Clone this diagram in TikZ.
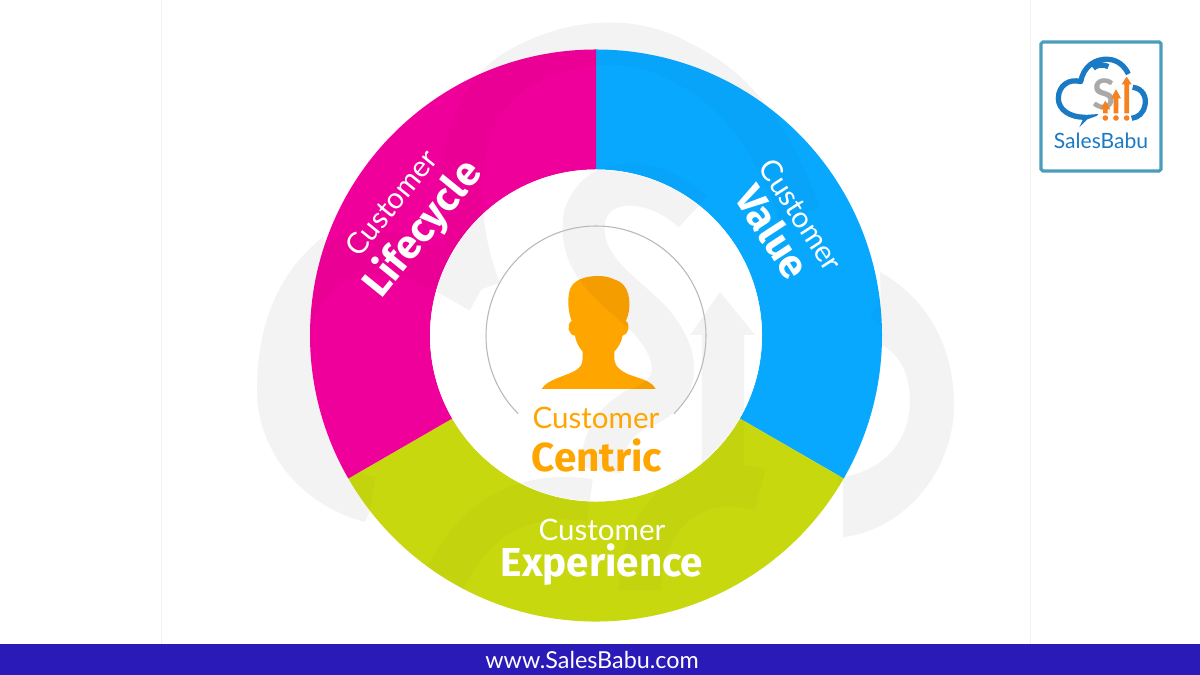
\documentclass[tikz,border=0pt]{standalone}
\usepackage{fontspec}
\setmainfont{Lato}
\newfontfamily\boldfam{Fira Sans}
\newfontfamily\thinfam{Lato}
\definecolor{ringpink}{HTML}{F0009A}
\definecolor{ringblue}{HTML}{08A8FF}
\definecolor{ringlime}{HTML}{C7D80F}
\definecolor{accent}{HTML}{FFA500}
\definecolor{footerblue}{HTML}{2A1AB8}
\definecolor{logoblue}{HTML}{1B7AC4}
\definecolor{logoframe}{HTML}{4A9DBB}
\definecolor{logoorange}{HTML}{F58220}
\definecolor{logogray}{HTML}{A9A9A9}
\definecolor{markgray}{HTML}{F3F3F3}
\tikzset{
  thin text/.style={inner sep=0pt,font=\thinfam\fontsize{16.8pt}{18pt}\selectfont},
  bold text/.style={inner sep=0pt,font=\boldfam\bfseries\fontsize{23pt}{26pt}\selectfont},
  mark band/.style={line width=24pt,line cap=butt,fill=none},
  image space/.style={cm={1,0,0,-1,(0,675)}},
  logo line/.style={draw=logoblue,line width=3pt,line cap=butt,fill=none},
}
\newcommand{\markbands}{
 (480,292) .. controls (440,270) and (400,240) .. (345,258)
 .. controls (300,280) and (278,330) .. (280,390)
 .. controls (282,440) and (320,490) .. (372,498)
 (480,290) .. controls (445,200) and (460,100) .. (520,68)
 .. controls (580,35) and (640,38) .. (680,62) .. controls (730,85) and (770,130) .. (800,215)
 (693,212) .. controls (660,180) and (600,170) .. (585,215)
 .. controls (575,265) and (620,290) .. (650,320)
 .. controls (685,360) and (680,395) .. (635,410)
 .. controls (610,425) and (605,440) .. (600,470)
 (723,335) -- (723,480)
 (880,300) .. controls (920,320) and (932,360) .. (932,405)
 .. controls (932,460) and (890,495) .. (840,497)
 (440,590) .. controls (470,520) and (520,490) .. (590,500)
 (640,590) .. controls (640,520) and (690,470) .. (760,490)
}
\begin{document}
\begin{tikzpicture}[x=.02cm,y=.02cm]
\useasboundingbox (0,0) rectangle (1200,675);
\fill[white] (0,0) rectangle (1200,675);
% page edge lines
\draw[draw=black!5,line width=.4pt] (161,31) -- (161,675);
\draw[draw=black!5,line width=.4pt] (1030,31) -- (1030,675);
% watermark outside the ring
\begin{scope}[image space]
\draw[mark band,draw=markgray]
 (480,290) .. controls (445,200) and (460,100) .. (520,68)
 .. controls (580,35) and (640,38) .. (680,62) .. controls (730,85) and (770,130) .. (800,215);
\fill[markgray] (323,237) .. controls (275,275) and (257,330) .. (257,390)
 .. controls (257,450) and (300,505) .. (365,522) -- (420,400) -- cycle;
\fill[markgray] (880,272) .. controls (930,300) and (954,350) .. (954,405)
 .. controls (954,470) and (905,530) .. (843,537) -- (843,477)
 .. controls (885,470) and (910,440) .. (910,400)
 .. controls (910,375) and (900,355) .. (882,345) -- cycle;
\end{scope}
% ring
\coordinate (ringc) at (596,339.5);
\fill[ringblue] (ringc) ++(90:286) arc[start angle=90,end angle=-30,radius=286] -- ++(150:120) arc[start angle=-30,end angle=90,radius=166] -- cycle;
\fill[ringlime] (ringc) ++(-30:286) arc[start angle=-30,end angle=-150,radius=286] -- ++(30:120) arc[start angle=-150,end angle=-30,radius=166] -- cycle;
\fill[ringpink] (ringc) ++(90:286) arc[start angle=90,end angle=210,radius=286] -- ++(30:120) arc[start angle=210,end angle=90,radius=166] -- cycle;
% watermark on the ring, very faint
\begin{scope}
\clip (ringc) circle[radius=286];
\begin{scope}[image space]
\draw[mark band,draw=black,draw opacity=.02] \markbands;
\end{scope}
\end{scope}
% white centre
\fill[white] (ringc) circle[radius=166];
% person
\begin{scope}[image space,shift={(430,170)},x=.02cm/3,y=.02cm/3]
\fill[accent] (335,657) .. controls (350,630) and (400,620) .. (430,605)
 .. controls (450,595) and (458,585) .. (458,565) -- (458,545)
 .. controls (445,530) and (438,515) .. (435,497)
 .. controls (415,495) and (408,465) .. (425,452)
 .. controls (415,430) and (412,390) .. (418,365)
 .. controls (425,330) and (465,318) .. (505,318)
 .. controls (525,318) and (540,322) .. (552,328)
 .. controls (590,338) and (600,375) .. (598,410)
 .. controls (597,430) and (592,445) .. (587,452)
 .. controls (603,465) and (595,495) .. (578,497)
 .. controls (575,515) and (565,532) .. (553,545) -- (553,570)
 .. controls (555,590) and (575,605) .. (600,615)
 .. controls (640,628) and (665,635) .. (677,657) -- cycle;
\end{scope}
% watermark inside the centre
\begin{scope}
\clip (ringc) circle[radius=165.5];
\begin{scope}[image space]
\draw[mark band,draw=black,draw opacity=.047] \markbands;
\fill[black,fill opacity=.047] (690,335) -- (720,292) -- (755,335) -- cycle;
\end{scope}
\end{scope}
% gray arc
\draw[draw=black!28,line width=.6pt] (596,339)++(225:110) arc[start angle=225,end angle=-45,radius=110];
% labels
\node[thin text,text=white,rotate=51] (lifecycleA) at (391,472) {Customer};
\node[bold text,text=white,rotate=51] (lifecycleB) at (423,446) {Lifecycle};
\node[thin text,text=white,rotate=-57] (valueA) at (801,460) {Customer};
\node[bold text,text=white,rotate=-57] (valueB) at (773,443) {Value};
\node[thin text,text=accent] (centricA) at (596,257) {Customer};
\node[bold text,text=accent] (centricB) at (597,220) {Centric};
\node[thin text,text=white] (expA) at (602,145) {Customer};
\node[bold text,text=white] (expB) at (602,110) {Experience};
% footer
\fill[footerblue] (0,0) rectangle (1200,31);
\node[inner sep=0pt,text=white,font=\thinfam\fontsize{13.3pt}{15pt}\selectfont] (footer) at (592,15) {www.SalesBabu.com};
% logo
\draw[draw=logoframe,line width=1.8pt,rounded corners=1pt,fill=white] (1041,504) rectangle (1161,633);
\begin{scope}[image space,shift={(1030,30)},x=.02cm/3,y=.02cm/3]
\draw[logo line,line join=round] (165,262) .. controls (120,262) and (85,240) .. (85,205)
 .. controls (85,165) and (120,145) .. (152,155)
 .. controls (160,110) and (195,85) .. (235,88)
 .. controls (265,90) and (285,110) .. (295,132)
 (235,110) .. controls (215,100) and (195,108) .. (190,115)
 (308,172) .. controls (340,175) and (350,205) .. (345,225)
 .. controls (340,250) and (325,262) .. (305,265);
\fill[logoblue] (148,292) -- (165,255) -- (205,252) -- (200,258) -- (172,268) -- cycle;
\node[inner sep=0pt,text=logogray,font=\thinfam\bfseries\fontsize{24pt}{24pt}\selectfont] (logoS) at (222,192) {S};
\fill[logoorange] (219,238) rectangle (233,250) (211,238) -- (226,212) -- (241,238) -- cycle
 (251,205) rectangle (265,250) (243,205) -- (258,178) -- (273,205) -- cycle
 (283,163) rectangle (297,250) (275,163) -- (290,140) -- (305,163) -- cycle;
\fill[logoorange] (226,264) circle[radius=1.6pt] (258,264) circle[radius=1.6pt] (290,264) circle[radius=1.6pt];
\end{scope}
\node[inner sep=0pt,text=logoblue,font=\thinfam\fontsize{12pt}{13pt}\selectfont] (logoT) at (1101,534) {SalesBabu};
\end{tikzpicture}
\end{document}
